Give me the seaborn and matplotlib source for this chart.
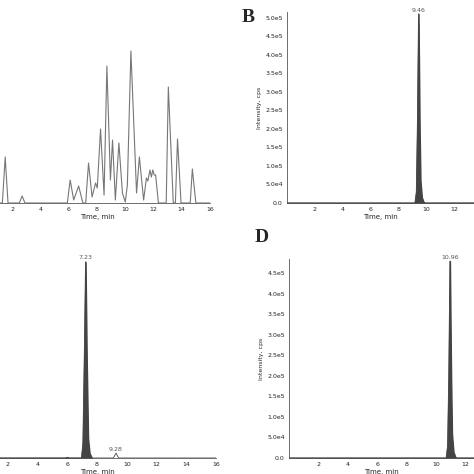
import matplotlib
matplotlib.use("Agg")
import matplotlib.pyplot as plt
import seaborn as sns
import pandas as pd

sns.set_style("white")
plt.rcParams["font.family"] = ["DejaVu Sans"]

# Panel A: total ion chromatogram (time, relative intensity)
a_time = [0.5, 1.3, 1.5, 1.7, 2.5, 2.7, 2.9, 5.9, 6.1, 6.35, 6.7, 7.0, 7.2, 7.4, 7.65, 7.9, 8.02, 8.25,
          8.5, 8.7, 8.95, 9.1, 9.3, 9.55, 9.8, 10.0, 10.15, 10.4, 10.8, 11.0, 11.3, 11.5, 11.6, 11.75,
          11.85, 11.95, 12.05, 12.15, 12.35, 12.9, 13.05, 13.4, 13.55, 13.7, 13.95, 14.6, 14.75, 15.0, 16.0]
a_int = [0, 0, 46, 0, 0, 7, 0, 0, 23, 3, 17, 0, 0, 40, 6, 20, 15, 74,
         8, 137, 23, 63, 3, 60, 10, 1, 18, 152, 10, 46, 3, 25, 22, 33,
         26, 33, 28, 28, 0, 0, 116, 0, 0, 64, 0, 0, 34, 0, 0]

# Panel B: single peak at 9.46 min
b_time = [0.0, 9.2, 9.3, 9.38, 9.46, 9.54, 9.6, 9.7, 9.85, 13.5]
b_int = [0, 0, 3e4, 2.2e5, 5.1e5, 2.0e5, 6e4, 1.5e4, 0, 0]

# Panel C: peak at 7.23 min plus small peak at 9.28
c_time = [0.0, 5.9, 6.0, 6.1, 6.95, 7.05, 7.15, 7.23, 7.31, 7.4, 7.5, 7.65, 9.1, 9.28, 9.45, 16.0]
c_int = [0, 0, 0.8, 0, 0, 15, 110, 200, 100, 20, 5, 0, 0, 5, 0, 0]

# Panel D: peak at 10.96 min
d_time = [0.0, 10.7, 10.8, 10.88, 10.96, 11.04, 11.1, 11.2, 11.35, 12.6]
d_int = [0, 0, 3e4, 2.0e5, 4.8e5, 2.0e5, 6e4, 1.5e4, 0, 0]

W = H = 474
fig = plt.figure(figsize=(4.74, 4.74), dpi=100)


def px_axes(left, top, right, bottom):
    return fig.add_axes([left / W, 1 - bottom / H, (right - left) / W, (bottom - top) / H])


def style(ax, xticks):
    for s in ["top", "right"]:
        ax.spines[s].set_visible(False)
    for s in ["left", "bottom"]:
        ax.spines[s].set_color("#555555")
        ax.spines[s].set_linewidth(0.6)
    ax.set_xticks(xticks)
    ax.tick_params(labelsize=4.5, length=1.5, width=0.5, colors="#222222", pad=1.5)
    ax.set_xlabel("Time, min", fontsize=5, labelpad=1)


# A
ax = px_axes(-16, 28, 210, 203)
sns.lineplot(x=a_time, y=a_int, ax=ax, color="#777777", linewidth=0.8)
ax.set_xlim(0, 16)
ax.set_ylim(0, 175)
style(ax, range(2, 17, 2))
ax.set_yticks([])

# B
ax = px_axes(287, 12, 474, 203)
sns.lineplot(x=b_time, y=b_int, ax=ax, color="#444444", linewidth=0.6)
ax.fill_between(b_time, b_int, color="#444444")
ax.set_xlim(0, 13.45)
ax.set_ylim(0, 5.15e5)
style(ax, range(2, 13, 2))
yt = [i * 5e4 for i in range(11)]
ax.set_yticks(yt)
ax.set_yticklabels(["0.0"] + [f"{v:.1e}".replace("e+0", "e") for v in yt[1:]])
ax.set_ylabel("Intensity, cps", fontsize=4.5, labelpad=2)
ax.text(9.46, 5.12e5, "9.46", fontsize=4.5, ha="center", va="bottom", color="#555555")
fig.text(242 / W, 1 - 18 / H, "B", fontsize=14, fontweight="bold", family="Liberation Serif", va="center")

# C
ax = px_axes(-22, 255, 216, 458)
sns.lineplot(x=c_time, y=c_int, ax=ax, color="#444444", linewidth=0.6)
ax.fill_between(c_time[:12], c_int[:12], color="#444444")
ax.set_xlim(0, 16)
ax.set_ylim(0, 207)
style(ax, range(2, 17, 2))
ax.set_yticks([])
ax.text(7.23, 202, "7.23", fontsize=4.5, ha="center", va="bottom", color="#555555")
ax.text(9.28, 6, "9.28", fontsize=4.5, ha="center", va="bottom", color="#555555")

# D
ax = px_axes(289, 259, 474, 458)
sns.lineplot(x=d_time, y=d_int, ax=ax, color="#444444", linewidth=0.6)
ax.fill_between(d_time, d_int, color="#444444")
ax.set_xlim(0, 12.6)
ax.set_ylim(0, 4.85e5)
style(ax, range(2, 13, 2))
yt = [i * 5e4 for i in range(10)]
ax.set_yticks(yt)
ax.set_yticklabels(["0.0"] + [f"{v:.1e}".replace("e+0", "e") for v in yt[1:]])
ax.set_ylabel("Intensity, cps", fontsize=4.5, labelpad=2)
ax.text(10.96, 4.82e5, "10.96", fontsize=4.5, ha="center", va="bottom", color="#555555")
fig.text(255 / W, 1 - 237 / H, "D", fontsize=14, fontweight="bold", family="Liberation Serif", va="center")

fig.savefig("out.png", dpi=100)
